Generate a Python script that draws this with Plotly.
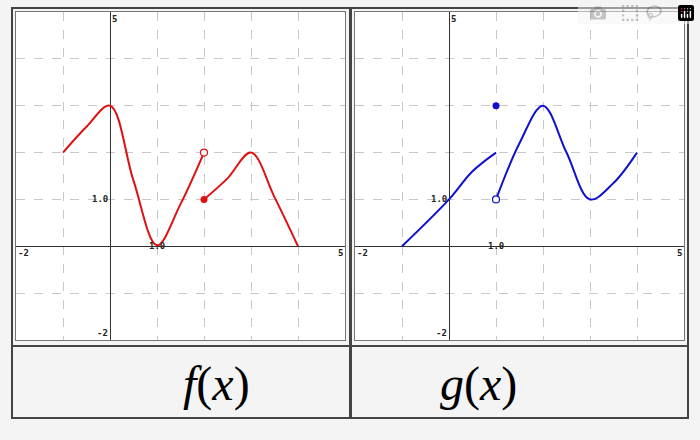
import plotly.graph_objects as go

# f(x) pieces
f1_x = [-1, -0.5, 0, 0.5, 1, 1.5, 2]
f1_y = [2, 2.55, 3, 1.4, 0.02, 0.9, 2]
f2_x = [2, 2.5, 3, 3.5, 4]
f2_y = [1, 1.45, 2, 1.05, 0]
f_open = ([2], [2])
f_closed = ([2], [1])

# g(x) pieces
g1_x = [-1, 0, 0.5, 1]
g1_y = [0, 1, 1.6, 2]
g2_x = [1, 1.5, 2, 2.5, 3, 3.5, 4]
g2_y = [1, 2.2, 3, 2, 1, 1.35, 2]
g_open = ([1], [1])
g_closed = ([1], [3])

RED = "#e01010"
BLUE = "#1010d0"

fig = go.Figure()

def add_panel(pieces, opn, cls, color, xa, ya):
    for px, py in pieces:
        fig.add_trace(go.Scatter(x=px, y=py, mode="lines", line=dict(color=color, width=2, shape="spline"),
                                 xaxis=xa, yaxis=ya, hoverinfo="skip"))
    fig.add_trace(go.Scatter(x=opn[0], y=opn[1], mode="markers",
                             marker=dict(color="white", size=7, line=dict(color=color, width=1.2)),
                             xaxis=xa, yaxis=ya))
    fig.add_trace(go.Scatter(x=cls[0], y=cls[1], mode="markers",
                             marker=dict(color=color, size=7), xaxis=xa, yaxis=ya))

add_panel([(f1_x, f1_y), (f2_x, f2_y)], f_open, f_closed, RED, "x", "y")
add_panel([(g1_x, g1_y), (g2_x, g2_y)], g_open, g_closed, BLUE, "x2", "y2")

ax = dict(range=[-2, 5], dtick=1, showgrid=True, gridcolor="#c8c8c8", griddash="dash", gridwidth=1,
          zeroline=True, zerolinecolor="#333", zerolinewidth=1, showticklabels=False,
          showline=True, mirror=True, linecolor="#777", linewidth=1, fixedrange=True)
ydom = [1 - 340 / 440, 1 - 12 / 440]
fig.update_layout(
    width=700, height=440, margin=dict(l=0, r=0, t=0, b=0),
    paper_bgcolor="#f4f4f4", plot_bgcolor="white", showlegend=False,
    xaxis=dict(ax, domain=[16 / 700, 345 / 700]),
    yaxis=dict(ax, domain=ydom),
    xaxis2=dict(ax, domain=[355 / 700, 684 / 700]),
    yaxis2=dict(ax, domain=ydom),
)
fig.layout.yaxis2.anchor = "x2"
fig.layout.xaxis2.anchor = "y2"

# tick labels as in the original
tick_font = dict(family="DejaVu Sans Mono", size=9, color="#222")
for xa, ya in [("x", "y"), ("x2", "y2")]:
    for x, y, t, xanc, yanc in [(0, 5, "5", "left", "top"), (0, -2, "-2", "right", "bottom"),
                                (-2, 0, "-2", "left", "top"), (5, 0, "5", "right", "top"),
                                (0, 1, "1.0", "right", "middle"), (1, 0, "1.0", "center", "middle")]:
        fig.add_annotation(x=x, y=y, xref=xa, yref=ya, text=f"<b>{t}</b>", showarrow=False,
                           xanchor=xanc, yanchor=yanc, font=tick_font)

# frames
for x0, x1 in [(12, 350), (351, 688)]:
    fig.add_shape(type="rect", xref="paper", yref="paper", x0=x0 / 700, x1=x1 / 700,
                  y0=1 - 418 / 440, y1=1 - 8 / 440, line=dict(color="#444", width=2))
    fig.add_shape(type="line", xref="paper", yref="paper", x0=x0 / 700, x1=x1 / 700,
                  y0=1 - 346 / 440, y1=1 - 346 / 440, line=dict(color="#444", width=2))

for cx, f in [(181 / 700, "f"), (519 / 700, "g")]:
    fig.add_annotation(x=cx, y=1 - 384 / 440, xref="paper", yref="paper",
                       text=f"<i>{f}</i>(<i>x</i>)", showarrow=False, yanchor="middle",
                       font=dict(family="Liberation Serif", size=48, color="black"))

fig.write_html("out.html", post_script="document.body.style.margin='0';")
